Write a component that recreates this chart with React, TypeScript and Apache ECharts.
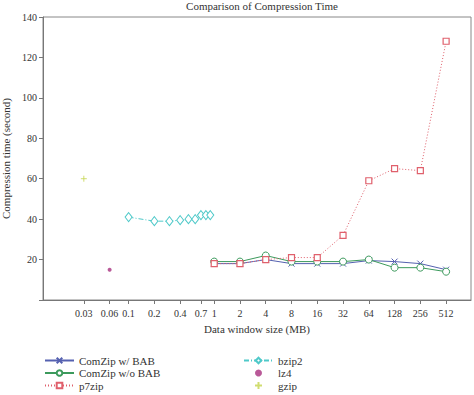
import React, { useEffect, useRef } from "react";
import * as echarts from "echarts";

const xTicks = [0.03, 0.06, 0.1, 0.2, 0.4, 0.7, 1, 2, 4, 8, 16, 32, 64, 128, 256, 512];
const windowSizes = [1, 2, 4, 8, 16, 32, 64, 128, 256, 512];
const comzipBAB = [18, 18, 20, 18, 18, 18, 19.5, 19, 18, 15];
const comzipNoBAB = [19, 19, 22, 19, 19, 19, 20, 16, 16, 14];
const p7zip = [18, 18, 20, 21, 21, 32, 59, 65, 64, 128];
const bzip2Sizes = [0.1, 0.2, 0.3, 0.4, 0.5, 0.6, 0.7, 0.8, 0.9];
const bzip2 = [41, 39, 39, 39.5, 40, 40, 42, 42, 42];
const lz4 = [[0.06, 15]];
const gzip = [[0.03, 60]];

const FONT = "'Liberation Serif', 'DejaVu Serif', serif";
const pair = (xs: number[], ys: number[]) => xs.map((x, i) => [x, ys[i]]);

export default function App() {
  const ref = useRef<HTMLDivElement>(null);
  useEffect(() => {
    if (!ref.current) return;
    const chart = echarts.init(ref.current, null, { renderer: "svg" });
    const blue = "#5561b0";
    const green = "#3c9a5c";
    const red = "#e0606c";
    const cyan = "#4fc9c9";
    const magenta = "#a8307e";
    const yellow = "#c4d44c";
    const legendText = { fontFamily: FONT, fontSize: 11, color: "#333" };
    chart.setOption({
      animation: false,
      textStyle: { fontFamily: FONT },
      title: {
        text: "Comparison of Compression Time",
        left: 262,
        textAlign: "center",
        top: 0,
        padding: 0,
        textStyle: { fontFamily: FONT, fontSize: 11, fontWeight: "normal", color: "#333" },
      },
      grid: {
        left: 43,
        right: 3,
        top: 17,
        bottom: 95,
        outerBoundsMode: "none",
        containLabel: false,
        show: true,
        borderColor: "#888",
        borderWidth: 1,
      },
      xAxis: {
        type: "log",
        logBase: 10,
        min: 0.01,
        max: 1000,
        name: "Data window size (MB)",
        nameLocation: "middle",
        nameGap: 23,
        nameTextStyle: { fontFamily: FONT, fontSize: 11, color: "#333" },
        axisLine: { lineStyle: { color: "#777" } },
        axisTick: { customValues: xTicks, length: 4, lineStyle: { color: "#777" } },
        axisLabel: {
          customValues: xTicks,
          fontFamily: FONT,
          fontSize: 10,
          color: "#333",
          margin: 8,
          formatter: (v: number) => String(Number(v.toPrecision(3))),
        },
        splitLine: { show: false },
        minorTick: { show: false },
      },
      yAxis: {
        type: "value",
        min: 0,
        max: 140,
        interval: 20,
        name: "Compression time (second)",
        nameLocation: "middle",
        nameGap: 30,
        nameTextStyle: { fontFamily: FONT, fontSize: 11, color: "#333" },
        axisLine: { show: true, lineStyle: { color: "#777" } },
        axisTick: { show: true, length: 4, lineStyle: { color: "#777" } },
        axisLabel: {
          fontFamily: FONT,
          fontSize: 10,
          color: "#333",
          margin: 6,
          formatter: (v: number) => (v === 0 ? "" : String(v)),
        },
        splitLine: { show: false },
      },
      legend: [
        {
          data: ["ComZip w/ BAB", "ComZip w/o BAB", "p7zip"],
          orient: "vertical",
          left: 44,
          top: 355,
          height: 60,
          padding: 0,
          itemWidth: 29,
          itemHeight: 7,
          itemGap: 1.5,
          textStyle: legendText,
        },
        {
          data: ["bzip2", "lz4", "gzip"],
          orient: "vertical",
          left: 243,
          top: 355,
          height: 60,
          padding: 0,
          itemWidth: 29,
          itemHeight: 7,
          itemGap: 1.5,
          textStyle: legendText,
        },
      ],
      series: [
        {
          name: "ComZip w/ BAB",
          type: "line",
          data: pair(windowSizes, comzipBAB),
          symbol: "path://M0,0L10,10M10,0L0,10",
          symbolSize: 6,
          lineStyle: { color: blue, width: 1 },
          itemStyle: { color: blue, borderColor: blue, borderWidth: 1 },
        },
        {
          name: "ComZip w/o BAB",
          type: "line",
          data: pair(windowSizes, comzipNoBAB),
          symbol: "circle",
          symbolSize: 7,
          lineStyle: { color: green, width: 1 },
          itemStyle: { color: "#fff", borderColor: green, borderWidth: 1 },
        },
        {
          name: "p7zip",
          type: "line",
          data: pair(windowSizes, p7zip),
          symbol: "rect",
          symbolSize: 6,
          lineStyle: { color: red, width: 1, type: [1, 2] },
          itemStyle: { color: "#fff", borderColor: red, borderWidth: 1.2 },
        },
        {
          name: "bzip2",
          type: "line",
          data: pair(bzip2Sizes, bzip2),
          symbol: "diamond",
          symbolSize: [7, 9],
          lineStyle: { color: cyan, width: 1, type: [5, 2, 1, 2] },
          itemStyle: { color: "#fff", borderColor: cyan, borderWidth: 1 },
        },
        {
          name: "lz4",
          type: "scatter",
          data: lz4,
          symbol: "circle",
          symbolSize: 4,
          itemStyle: { color: magenta },
        },
        {
          name: "gzip",
          type: "scatter",
          data: gzip,
          symbol: "path://M5,0L5,10M0,5L10,5",
          symbolSize: 6,
          itemStyle: { color: yellow, borderColor: yellow, borderWidth: 1 },
        },
      ],
    });
    return () => chart.dispose();
  }, []);
  return (
    <div
      ref={ref}
      style={{ position: "absolute", left: 0, top: 0, width: 474, height: 395 }}
    />
  );
}
